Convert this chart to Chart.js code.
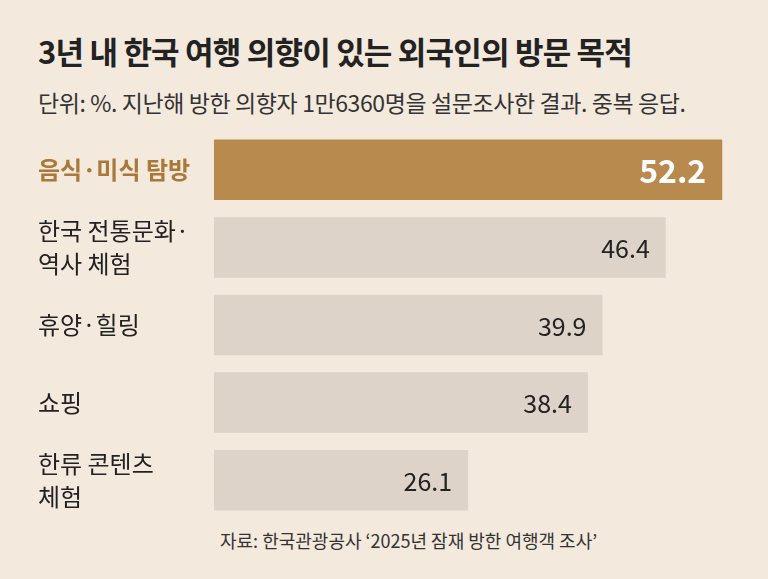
<!DOCTYPE html>
<html><head><meta charset="utf-8">
<script src="https://cdn.jsdelivr.net/npm/chart.js@4"></script>
<style>
body{margin:0;width:768px;height:579px;background:#f3e9dd;font-family:"Noto Sans CJK KR",sans-serif;position:relative;overflow:hidden}
#t{position:absolute;left:38px;top:28px;font-size:31px;font-weight:bold;color:#222;letter-spacing:-0.8px}
#s{position:absolute;left:38px;top:85px;font-size:23px;color:#333;letter-spacing:-0.4px}
#src{position:absolute;left:220px;top:527px;font-size:18px;color:#333}
#w{position:absolute;left:0;top:131px;width:768px;height:388px}
</style></head><body>
<div id="t">3년 내 한국 여행 의향이 있는 외국인의 방문 목적</div>
<div id="s">단위: %. 지난해 방한 의향자 1만6360명을 설문조사한 결과. 중복 응답.</div>
<div id="w"><canvas id="c"></canvas></div>
<div id="src">자료: 한국관광공사 ‘2025년 잠재 방한 여행객 조사’</div>
<script>
const categories=[["음식·미식 탐방"],["한국 전통문화·","역사 체험"],["휴양·힐링"],["쇼핑"],["한류 콘텐츠","체험"]];
const values=[52.2,46.4,39.9,38.4,26.1];
const colors=["#b98a4e","#ddd3c8","#ddd3c8","#ddd3c8","#ddd3c8"];
const plug={id:'lbl',afterDatasetsDraw(ch){
 const c=ch.ctx,m=ch.getDatasetMeta(0);
 m.data.forEach((b,i)=>{
  c.save();
  const first=i===0;
  c.font=(first?'bold 32px':'25px')+' "Noto Sans CJK KR"';
  c.fillStyle=first?'#fff':'#222';c.textAlign='right';c.textBaseline='middle';
  c.fillText(values[i].toFixed(1),b.x-16,b.y+1);
  c.font=(first?'bold ':'')+'24px "Noto Sans CJK KR"';
  c.fillStyle=first?'#a9783a':'#222';c.textAlign='left';
  const L=categories[i],lh=33,y0=b.y-(L.length-1)*lh/2;
  L.forEach((t,j)=>c.fillText(t,38,y0+j*lh));
  c.restore();
 });
}};
new Chart(document.getElementById('c'),{type:'bar',
 data:{labels:categories.map(l=>l.join(' ')),datasets:[{data:values,backgroundColor:colors,barPercentage:0.78,categoryPercentage:1}]},
 options:{indexAxis:'y',responsive:true,maintainAspectRatio:false,animation:false,
  layout:{padding:{left:214,right:0,top:0,bottom:0}},
  plugins:{legend:{display:false},tooltip:{enabled:false}},
  scales:{x:{display:false,min:0,max:56.9},y:{display:false}}},
 plugins:[plug]});
</script></body></html>
